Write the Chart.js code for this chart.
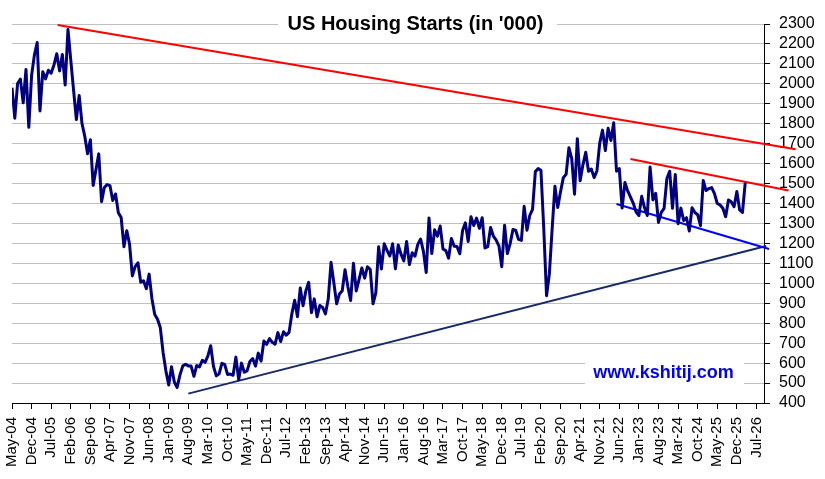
<!DOCTYPE html>
<html>
<head>
<meta charset="utf-8">
<title>US Housing Starts</title>
<script src="https://cdn.jsdelivr.net/npm/chart.js@4.4.1/dist/chart.umd.min.js"></script>
<style>
  html, body { margin: 0; padding: 0; background: #fff; }
  #wrap { width: 825px; height: 479px; }
</style>
</head>
<body>
<div id="wrap"><canvas id="chart" width="825" height="479"></canvas></div>
<script>
// monthly housing starts ('000), May-04 onward
const housingStarts = [
  // 2004 (May-Dec)
  1981, 1828, 2002, 2024, 1905, 2072, 1782, 2042,
  // 2005
  2144, 2207, 1864, 2061, 2025, 2068, 2054, 2095, 2151, 2065, 2147, 1994,
  // 2006
  2273, 2119, 1969, 1821, 1942, 1802, 1737, 1650, 1720, 1491, 1570, 1649,
  // 2007
  1409, 1480, 1495, 1490, 1415, 1448, 1354, 1330, 1183, 1264, 1197, 1037,
  // 2008
  1084, 1103, 1005, 1013, 973, 1046, 923, 844, 820, 777, 652, 560,
  // 2009
  490, 582, 505, 478, 540, 585, 594, 586, 585, 534, 588, 581,
  // 2010
  614, 604, 636, 687, 583, 536, 546, 599, 594, 543, 545, 539,
  // 2011
  630, 517, 600, 554, 561, 608, 623, 585, 650, 610, 711, 694,
  // 2012
  723, 704, 695, 753, 708, 757, 740, 754, 847, 915, 833, 976,
  // 2013
  888, 962, 1005, 853, 922, 832, 889, 879, 847, 921, 1105, 1003,
  // 2014
  897, 947, 963, 1068, 984, 914, 1101, 962, 1018, 1077, 1026, 1083,
  // 2015
  1070, 897, 952, 1183, 1072, 1198, 1165, 1137, 1198, 1073, 1192, 1146,
  // 2016
  1112, 1210, 1094, 1153, 1136, 1195, 1222, 1160, 1054, 1328, 1149, 1268,
  // 2017
  1236, 1287, 1172, 1164, 1126, 1225, 1186, 1185, 1148, 1265, 1303, 1210,
  // 2018
  1334, 1290, 1327, 1276, 1329, 1177, 1184, 1280, 1237, 1217, 1187, 1083,
  // 2019
  1291, 1149, 1199, 1270, 1265, 1220, 1215, 1386, 1266, 1340, 1371, 1560,
  // 2020
  1575, 1567, 1276, 938, 1046, 1273, 1487, 1380, 1459, 1530, 1547, 1680,
  // 2021
  1625, 1447, 1725, 1514, 1594, 1657, 1562, 1573, 1530, 1563, 1703, 1768,
  // 2022
  1666, 1777, 1716, 1805, 1562, 1575, 1377, 1505, 1463, 1432, 1401, 1357,
  // 2023
  1340, 1436, 1380, 1340, 1583, 1418, 1451, 1305, 1356, 1376, 1525, 1562,
  // 2024
  1376, 1546, 1299, 1377, 1315, 1329, 1262, 1379, 1355, 1344, 1289, 1515,
  // 2025
  1465, 1475, 1480, 1450, 1400, 1393, 1376, 1334, 1418, 1409, 1384, 1460,
  // 2026
  1368, 1355, 1505
];

// x axis labels, one every 7 months starting May-04
const tickLabels = ['May-04', 'Dec-04', 'Jul-05', 'Feb-06', 'Sep-06', 'Apr-07', 'Nov-07', 'Jun-08',
  'Jan-09', 'Aug-09', 'Mar-10', 'Oct-10', 'May-11', 'Dec-11', 'Jul-12', 'Feb-13', 'Sep-13',
  'Apr-14', 'Nov-14', 'Jun-15', 'Jan-16', 'Aug-16', 'Mar-17', 'Oct-17', 'May-18', 'Dec-18',
  'Jul-19', 'Feb-20', 'Sep-20', 'Apr-21', 'Nov-21', 'Jun-22', 'Jan-23', 'Aug-23', 'Mar-24',
  'Oct-24', 'May-25', 'Dec-25', 'Jul-26'];
const tickStep = 7;

// trend lines: [month index, value]
const redUpper = [[16.3, 2295], [280, 1672]];
const redLower = [[221, 1623], [277.5, 1465]];
const blueLower = [[216, 1398], [270.5, 1172]];
const navySupport = [[63, 447], [269.5, 1187]];

const chartTitle = "US Housing Starts (in '000)";
const siteName = 'www.kshitij.com';

const FONT = '"Liberation Sans", Arial, sans-serif';

function toPoints(arr) {
  return arr.map(p => ({ x: p[0], y: p[1] }));
}

// title and site name sit on white boxes over the gridlines
const overlayText = {
  id: 'overlayText',
  afterDraw(chart) {
    const ctx = chart.ctx;
    ctx.save();
    ctx.fillStyle = '#ffffff';
    ctx.fillRect(278, 10, 279, 26);
    ctx.fillRect(585, 360, 159, 27);
    ctx.textAlign = 'center';
    ctx.textBaseline = 'alphabetic';
    ctx.fillStyle = '#000000';
    ctx.font = 'bold 20px ' + FONT;
    ctx.fillText(chartTitle, 415.5, 30);
    ctx.fillStyle = '#0000ff';
    ctx.font = 'bold 18px ' + FONT;
    ctx.fillText(siteName, 663.5, 378);
    ctx.restore();
  }
};

const trendStyle = { pointRadius: 0, borderWidth: 2, tension: 0, clip: false };

new Chart(document.getElementById('chart'), {
  type: 'line',
  data: {
    datasets: [
      {
        label: 'Housing Starts',
        data: housingStarts.map((v, i) => ({ x: i, y: v })),
        borderColor: '#000080',
        borderWidth: 3,
        borderJoinStyle: 'round',
        pointRadius: 0,
        tension: 0
      },
      Object.assign({ data: toPoints(redUpper), borderColor: '#ff0000' }, trendStyle),
      Object.assign({ data: toPoints(redLower), borderColor: '#ff0000' }, trendStyle),
      Object.assign({ data: toPoints(blueLower), borderColor: '#0000ff' }, trendStyle),
      Object.assign({ data: toPoints(navySupport), borderColor: '#15296b' }, trendStyle)
    ]
  },
  options: {
    responsive: false,
    animation: false,
    layout: { padding: { left: 12, top: 24, right: 0, bottom: 0 } },
    plugins: {
      legend: { display: false },
      tooltip: { enabled: false },
      title: { display: false }
    },
    scales: {
      x: {
        type: 'linear',
        min: 0,
        max: 268.7,
        afterBuildTicks: axis => {
          axis.ticks = tickLabels.map((_, i) => ({ value: i * tickStep }));
        },
        afterFit: scale => { scale.height = 76; },
        grid: { drawOnChartArea: false, tickLength: 6, tickColor: '#000' },
        border: { color: '#000', width: 1 },
        ticks: {
          autoSkip: false,
          maxRotation: 90,
          minRotation: 90,
          padding: 8,
          color: '#000',
          font: { family: FONT, size: 15 },
          callback: (value, index) => tickLabels[index]
        }
      },
      y: {
        position: 'right',
        min: 400,
        max: 2300,
        afterFit: scale => { scale.width = 61; },
        grid: { color: '#c0c0c0', lineWidth: 1, tickLength: 6, tickColor: '#000' },
        border: { color: '#000', width: 1 },
        ticks: {
          stepSize: 100,
          maxTicksLimit: 40,
          autoSkip: false,
          crossAlign: 'near',
          padding: 9,
          color: '#000',
          font: { family: FONT, size: 16 },
          callback: value => String(value)
        }
      }
    }
  },
  plugins: [overlayText]
});
</script>
</body>
</html>
